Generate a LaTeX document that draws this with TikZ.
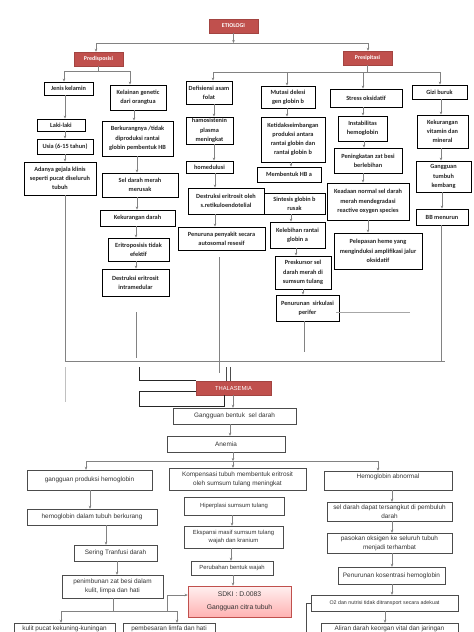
\documentclass[tikz,border=0pt]{standalone}
\usepackage{fontspec}
\setmainfont{Liberation Sans}
\newfontfamily\calf{Carlito}
\usetikzlibrary{arrows.meta,shadows}
\definecolor{redc}{RGB}{192,80,77}
\definecolor{lnc}{RGB}{130,130,130}
\newcommand\mybox[7]{\node[#1, minimum width={#5-#3}, minimum height={#6-#4}] (#2) at ({(#3+#5)/2},{(#4+#6)/2}) {#7};}
\newcommand\vx[3]{\coordinate (tmpx) at (#3,0); \draw[arr] (#1.south -| tmpx) -- (#2.north -| tmpx);}
\begin{document}
\begin{tikzpicture}[x=1pt,y=-1pt,
  ub/.style={draw=black, line width=0.9pt, fill=white, font=\calf\bfseries\fontsize{6.3}{9.2}\selectfont, align=center, inner sep=0.5pt, text=black!85},
  lb/.style={draw=black!70, line width=0.45pt, fill=white, font=\fontsize{6.4}{9}\selectfont, align=center, inner sep=1pt, text=black!80},
  lbs/.style={lb, font=\fontsize{5.9}{8.8}\selectfont},
  redb/.style={fill=redc, draw=redc!85!black, line width=0.5pt, text=white, font=\calf\bfseries\fontsize{5.9}{6}\selectfont, inner sep=1pt},
  arr/.style={-{Stealth[length=3pt,width=2.6pt]}, draw=lnc, line width=0.5pt},
  ln/.style={draw=lnc, line width=0.5pt},
  dk/.style={draw=black!85, line width=0.9pt},
]
\useasboundingbox (0,0) rectangle (474,632);
\clip (0,0) rectangle (474,632);
\fill[white] (0,0) rectangle (474,632);

% ---------- upper part ----------
\mybox{redb}{etio}{209}{19}{258}{33}{ETIOLOGI}
\mybox{redb}{pred}{74}{52}{123}{66}{Predisposisi}
\mybox{redb}{pres}{343}{51}{392}{65}{Presipitasi}

\mybox{ub}{jk}{44}{82}{93}{95}{Jenis kelamin}
\mybox{ub}{kg}{110}{85}{166}{110}{Kelainan genetic\\dari orangtua}
\mybox{ub}{df}{186}{81}{232}{104}{Defisiensi asam\\folat}
\mybox{ub}{mu}{261}{86}{315}{108}{Mutasi delesi\\gen globin b}
\mybox{ub}{so}{330}{89}{402}{107}{Stress oksidatif}
\mybox{ub}{gb}{412}{85}{467}{99}{Gizi buruk}

\mybox{ub}{ll}{37}{119}{85}{131}{Laki-laki}
\mybox{ub}{us}{37}{139}{93}{154}{Usia (6-15 tahun)}
\mybox{ub}{ad}{24}{162}{96}{195}{Adanya gejala klinis\\seperti pucat diseluruh\\tubuh}

\mybox{ub}{bk}{102}{121}{173}{156}{Berkurangnya /tidak\\diproduksi rantai\\globin pembentuk HB}
\mybox{ub}{sd}{102}{173}{178}{197}{Sel darah merah\\merusak}
\mybox{ub}{kd}{100}{210}{175}{226}{Kekurangan darah}
\mybox{ub}{et}{108}{238}{169}{261}{Eritroposisis tidak\\efektif}
\mybox{ub}{di}{102}{269}{169}{296}{Destruksi eritrosit\\intramedular}

\mybox{ub}{hp}{186}{117}{233}{144}{hamosistenin\\plasma\\meningkat}
\mybox{ub}{hm}{186}{161}{233}{173}{homedulusi}
\mybox{ub}{de}{188}{188}{264}{214}{Destruksi eritrosit oleh\\s.retikuloendotelial}
\mybox{ub}{pp}{178}{227}{265}{250}{Penuruna penyakit secara\\autosomal resesif}

\mybox{ub}{ks}{261}{117}{325}{162}{Ketidakseimbangan\\produksi antara\\rantai globin dan\\rantai globin b}
\mybox{ub}{mh}{257}{167}{321}{182}{Membentuk HB a}
\mybox{ub}{sg}{264}{193}{325}{214}{Sintesis globin b\\rusak}
\mybox{ub}{kr}{270}{222}{325}{248}{Kelebihan rantai\\globin a}
\mybox{ub}{ps}{275}{256}{331}{289}{Preskursor sel\\darah merah di\\sumsum tulang}
\mybox{ub}{pf}{276}{295}{339}{321}{Penurunan\ \ sirkulasi\\perifer}

\mybox{ub}{ih}{338}{116}{387}{141}{Instabilitas\\hemoglobin}
\mybox{ub}{pz}{334}{148}{402}{173}{Peningkatan zat besi\\berlebihan}
\mybox{ub}{kn}{327}{183}{409}{220}{Keadaan normal sel darah\\merah mendegradasi\\reactive oxygen species}
\mybox{ub}{ph}{334}{233}{422}{269}{Pelepasan heme yang\\menginduksi amplifikasi jalur\\oksidatif}

\mybox{ub}{kv}{417}{115}{468}{148}{Kekurangan\\vitamin dan\\mineral}
\mybox{ub}{gt}{416}{161}{471}{192}{Gangguan\\tumbuh\\kembang}
\mybox{ub}{bb}{416}{209}{468}{225}{BB menurun}

% upper connectors
\coordinate (ebL) at (96,43); \coordinate (ebR) at (368,43);
\draw[arr] (etio.south) -- (etio.south |- ebL);
\draw[ln] (ebL) -- (ebR);
\draw[arr] (ebL) -- (ebL |- pred.north);
\draw[arr] (ebR) -- (ebR |- pres.north);

\coordinate (pbL) at (64,71); \coordinate (pbR) at (130,71);
\draw[ln] (pred.south) -- (pred.south |- pbL);
\draw[ln] (pbL) -- (pbR);
\draw[arr] (pbL) -- (pbL |- jk.north);
\draw[arr] (pbR) -- (pbR |- kg.north);

\coordinate (sbA) at (213,72); \coordinate (sbB) at (287,72);
\coordinate (sbC) at (363,72); \coordinate (sbD) at (440,72);
\draw[ln] (pres.south) -- (pres.south |- sbA);
\draw[ln] (sbA) -- (sbD);
\draw[arr] (sbA) -- (sbA |- df.north);
\draw[arr] (sbB) -- (sbB |- mu.north);
\draw[arr] (sbC) -- (sbC |- so.north);
\draw[arr] (sbD) -- (sbD |- gb.north);

\vx{jk}{ll}{65}
\vx{ll}{us}{65}
\vx{us}{ad}{65}
\vx{kg}{bk}{134}
\vx{bk}{sd}{137}
\vx{sd}{kd}{137}
\vx{kd}{et}{136}
\vx{et}{di}{136}
\vx{df}{hp}{214}
\vx{hp}{hm}{214}
\vx{hm}{de}{215}
\vx{de}{pp}{215}
\vx{mu}{ks}{287}
\vx{ks}{mh}{291}
\vx{sg}{kr}{291}
\vx{kr}{ps}{296}
\vx{ps}{pf}{303}
\vx{so}{ih}{363}
\vx{ih}{pz}{364}
\vx{pz}{kn}{363}
\vx{kn}{ph}{368}
\vx{gb}{kv}{441}
\vx{kv}{gt}{441}
\vx{gt}{bb}{442}

% long collecting lines
\coordinate (h1) at (65,361); \coordinate (h2) at (445,361);
\draw[ln] (ad.south -| h1) -- (h1);
\draw[ln] (h1) -- (h2);
\coordinate (c2a) at (136,312); \coordinate (c2b) at (136,358);
\draw[ln] (c2a) -- (c2b);
\coordinate (c3a) at (219,257); \coordinate (c3b) at (219,373);
\draw[ln] (c3a) -- (c3b);
\coordinate (c4b) at (304,352);
\draw[ln] (pf.south -| c4b) -- (c4b);
\coordinate (pfx) at (410,312);
\draw[ln, draw=lnc!70] (pf.east |- pfx) ++(-3,0) -- (pfx);
\coordinate (c6b) at (441,361);
\draw[ln] (bb.south -| c6b) -- (c6b);
\draw[ln, draw=lnc!50] (65,367) -- (65,402);

% ---------- lower part ----------
\mybox{redb, drop shadow={opacity=0.35, shadow xshift=1pt, shadow yshift=-1pt}, font=\fontsize{5.8}{6}\selectfont}{th}{196}{381}{271}{395}{THALASEMIA}

\coordinate (d1) at (139,367);
\draw[dk] (d1) -- (139,380) -- (th.west |- 0,380);
\draw[dk] (th.west |- 0,391) -- (139,391) -- (139,406) -- (224,406) -- (224,395);
\coordinate (t1) at (226,367); \coordinate (t2) at (230,367);
\draw[ln, draw=black!70] (t1) -- (t1 |- th.north);
\draw[ln, draw=black!70] (t2) -- (t2 |- th.north);

\mybox{lb}{gs}{173}{408}{296}{424}{Gangguan bentuk\ \ sel darah}
\mybox{lb}{an}{167}{436}{285}{452}{Anemia}
\mybox{lb}{gp}{27}{470}{152}{490}{gangguan produksi hemoglobin}
\mybox{lb}{kt}{169}{468}{306}{490}{Kompensasi tubuh membentuk eritrosit\\oleh sumsum tulang meningkat}
\mybox{lb}{ha}{324}{471}{452}{490}{Hemoglobin abnormal\\\mbox{}}
\mybox{lb}{hb}{27}{509}{157}{525}{hemoglobin dalam tubuh berkurang}
\mybox{lb}{st}{74}{545}{157}{561}{Sering Tranfusi darah}
\mybox{lb}{pn}{62}{575}{163}{598}{penimbunan zat besi dalam\\kulit, limpa dan hati}
\mybox{lb}{kp}{14}{623}{115}{634}{kulit pucat kekuning-kuningan}
\mybox{lb}{pl}{123}{623}{215}{634}{pembesaran limfa dan hati}
\mybox{lbs}{hs}{184}{497}{284}{515}{Hiperplasi sumsum tulang}
\mybox{lbs}{em}{184}{526}{283}{548}{Ekspansi masif sumsum tulang\\wajah dan kranium}
\mybox{lbs}{pw}{191}{561}{273}{575}{Perubahan bentuk wajah}
\mybox{lb, draw=redc, line width=0.6pt, top color=red!6, bottom color=red!30, drop shadow={opacity=0.3, shadow xshift=1pt, shadow yshift=-1pt}, font=\fontsize{6.8}{8}\selectfont}{sk}{188}{586}{291}{617}{SDKI : D.0083\\[5pt]Gangguan citra tubuh}
\mybox{lb}{sl}{327}{502}{452}{521}{sel darah dapat tersangkut di pembuluh\\darah}
\mybox{lb}{po}{327}{533}{452}{553}{pasokan oksigen ke seluruh tubuh\\menjadi terhambat}
\mybox{lb}{pk}{338}{567}{445}{584}{Penurunan kosentrasi hemoglobin}
\mybox{lb, font=\fontsize{5.3}{8}\selectfont}{on}{311}{595}{458}{611}{O2 dan nutrisi tidak ditransport secara adekuat}
\mybox{lb}{al}{321}{623}{458}{634}{Aliran darah keorgan vital dan jaringan}

\vx{th}{gs}{233}
\vx{gs}{an}{230}
\coordinate (abL) at (86,461); \coordinate (abM) at (233,461); \coordinate (abR) at (378,461);
\draw[arr] (an.south -| abM) -- (abM);
\draw[ln] (abL) -- (abR);
\draw[arr] (abL) -- (abL |- gp.north);
\draw[arr] (abM) -- (abM |- kt.north);
\draw[arr] (abR) -- (abR |- ha.north);

\vx{gp}{hb}{90}
\vx{hb}{st}{106}
\vx{st}{pn}{117}
\coordinate (pbx) at (113,611); \coordinate (pbxL) at (61,611); \coordinate (pbxR) at (177,611);
\draw[ln] (pn.south -| pbx) -- (pbx);
\draw[ln] (pbxL) -- (pbxR);
\draw[arr] (pbxL) -- (pbxL |- kp.north);
\draw[arr] (pbxR) -- (pbxR |- pl.north);
\coordinate (skx) at (167,611);
\draw[arr] (skx) |- ([yshift=6.5pt]sk.west);

\vx{hs}{em}{232}
\vx{em}{pw}{231}
\vx{pw}{sk}{233}

\vx{ha}{sl}{392}
\vx{sl}{po}{392}
\vx{po}{pk}{392}
\vx{pk}{on}{392}
\vx{on}{al}{385}
\coordinate (onE) at (306,640);
\draw[ln, draw=black!70] (on.west) -| (onE);
\end{tikzpicture}
\end{document}
